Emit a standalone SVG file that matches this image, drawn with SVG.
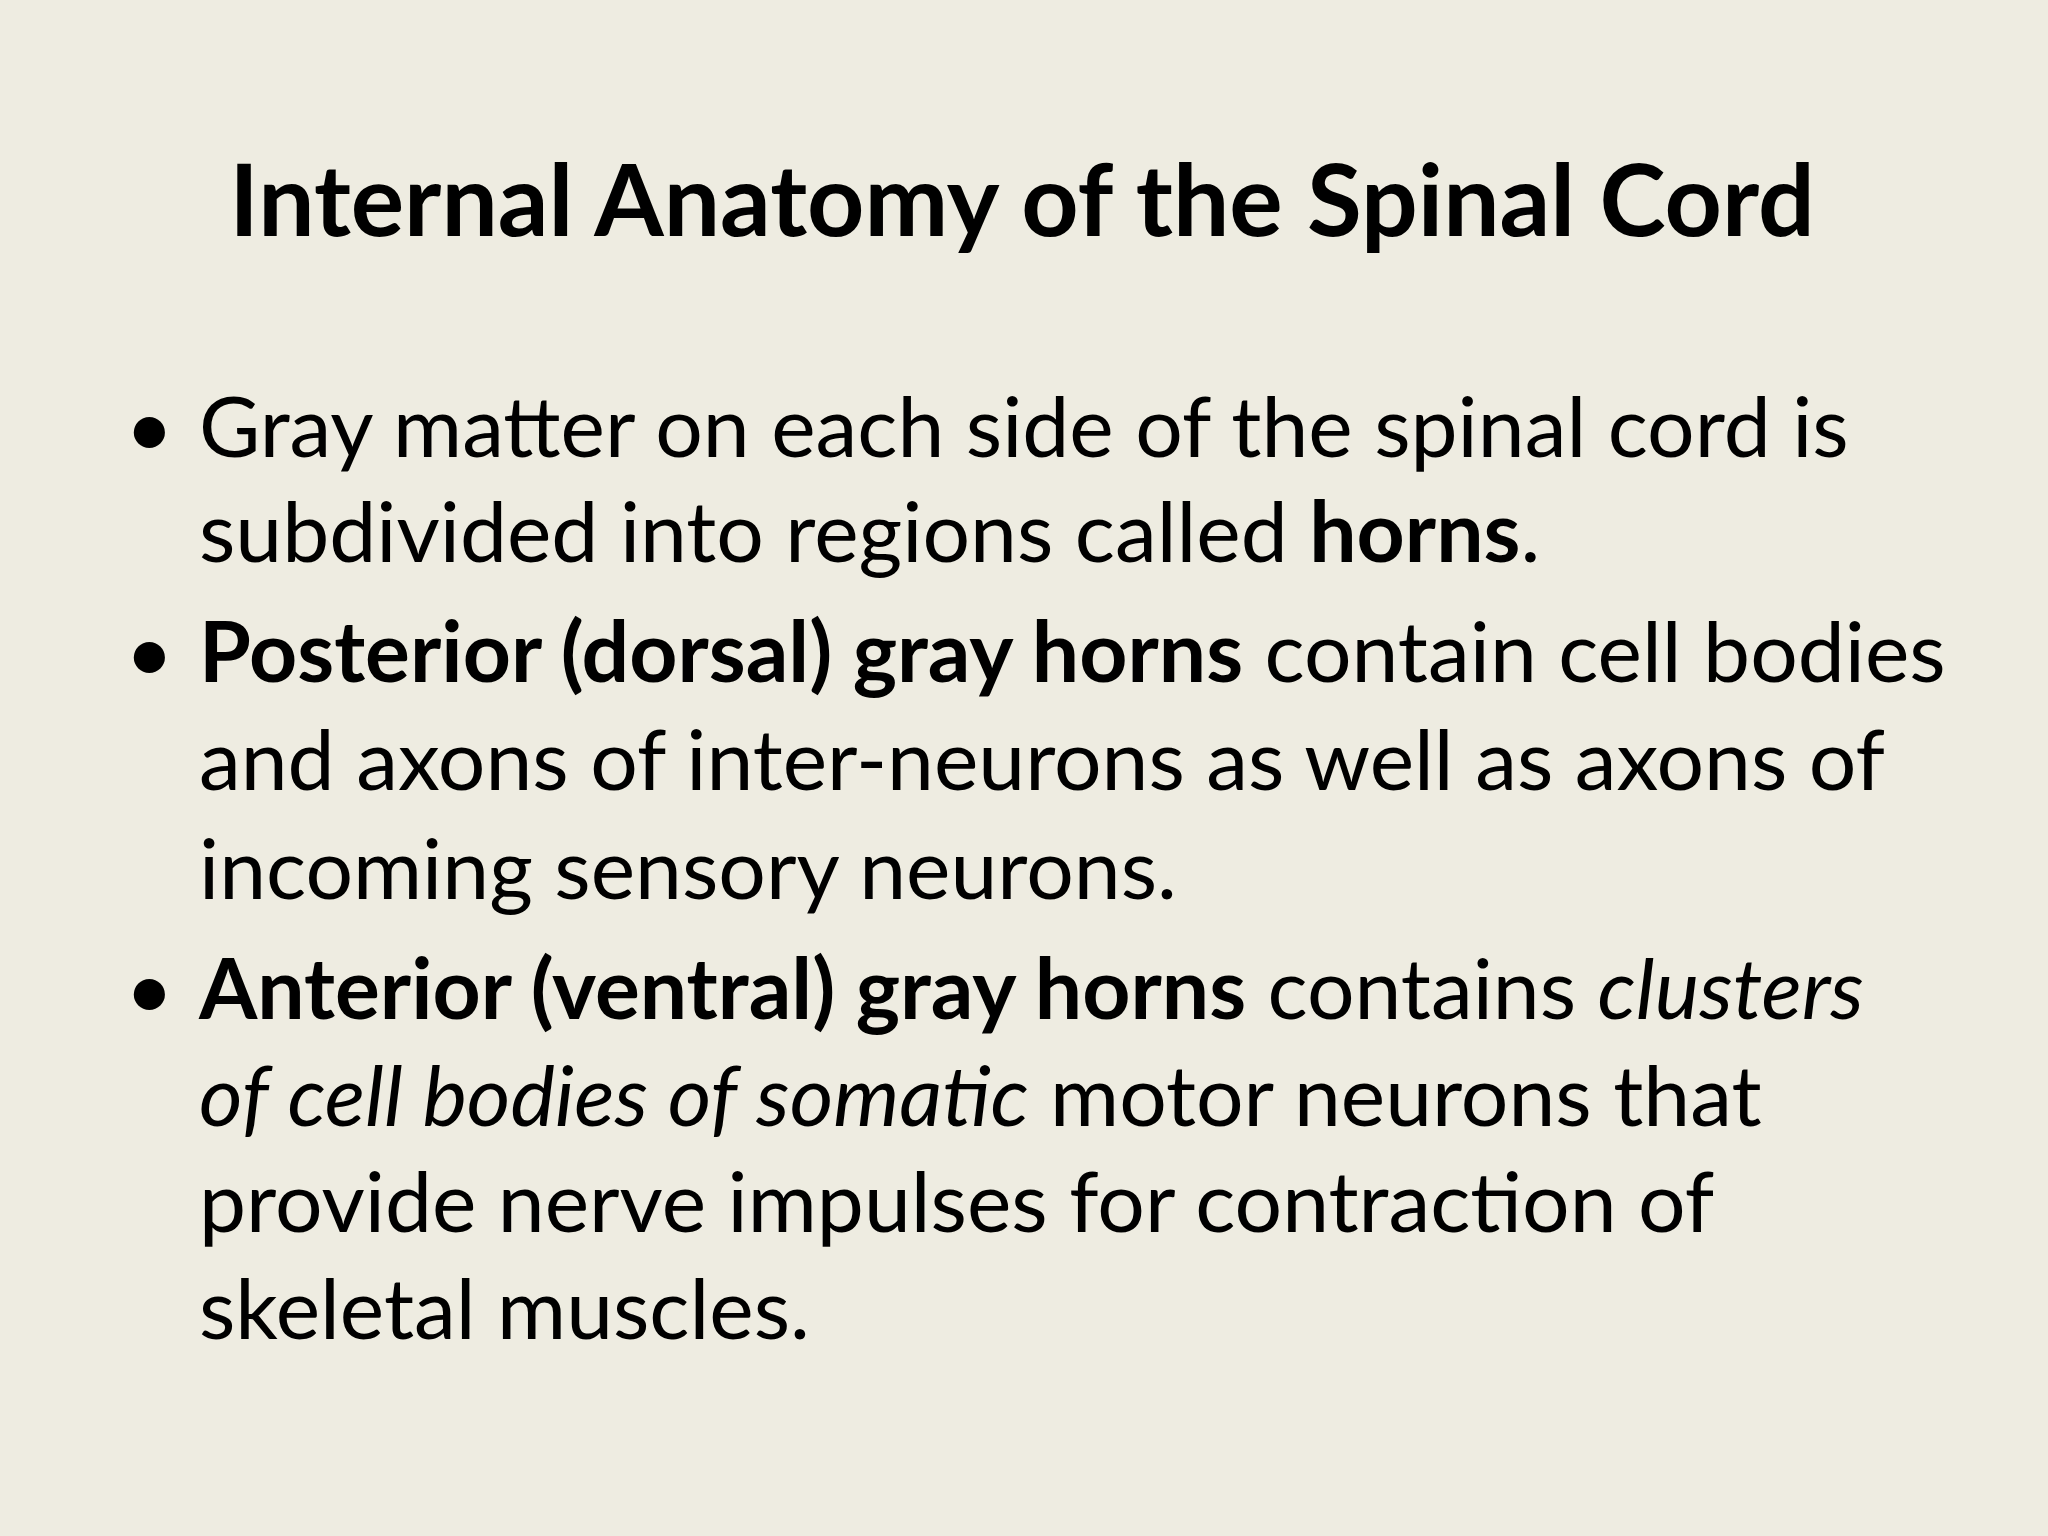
<svg xmlns="http://www.w3.org/2000/svg" width="2048" height="1536" viewBox="0 0 2048 1536">
<style>
.t{font-family:Lato,"Open Sans","DejaVu Sans",sans-serif;fill:#000}
.b{font-size:84px}
.h{font-size:100px;font-weight:bold}
</style>
<rect width="2048" height="1536" fill="#eeece1"/>
<g id="title"><text class="t h" x="1022" y="236" text-anchor="middle">Internal Anatomy of the Spinal Cord</text></g>
<g id="body" class="t b">
<text x="125" y="457">•</text>
<text x="199" y="457">Gray matter on each side of the spinal cord is</text>
<text x="199" y="562">subdivided into regions called <tspan font-weight="bold">horns</tspan>.</text>
<text x="125" y="682">•</text>
<text x="199" y="682"><tspan font-weight="bold">Posterior (dorsal) gray horns</tspan> contain cell bodies</text>
<text x="199" y="790">and axons of inter-neurons as well as axons of</text>
<text x="199" y="899">incoming sensory neurons.</text>
<text x="125" y="1019">•</text>
<text x="199" y="1019"><tspan font-weight="bold">Anterior (ventral) gray horns</tspan> contains <tspan font-style="italic">clusters</tspan></text>
<text x="199" y="1126"><tspan font-style="italic">of cell bodies of somatic</tspan> motor neurons that</text>
<text x="199" y="1232">provide nerve impulses for contraction of</text>
<text x="199" y="1339">skeletal muscles.</text>
</g>
</svg>
